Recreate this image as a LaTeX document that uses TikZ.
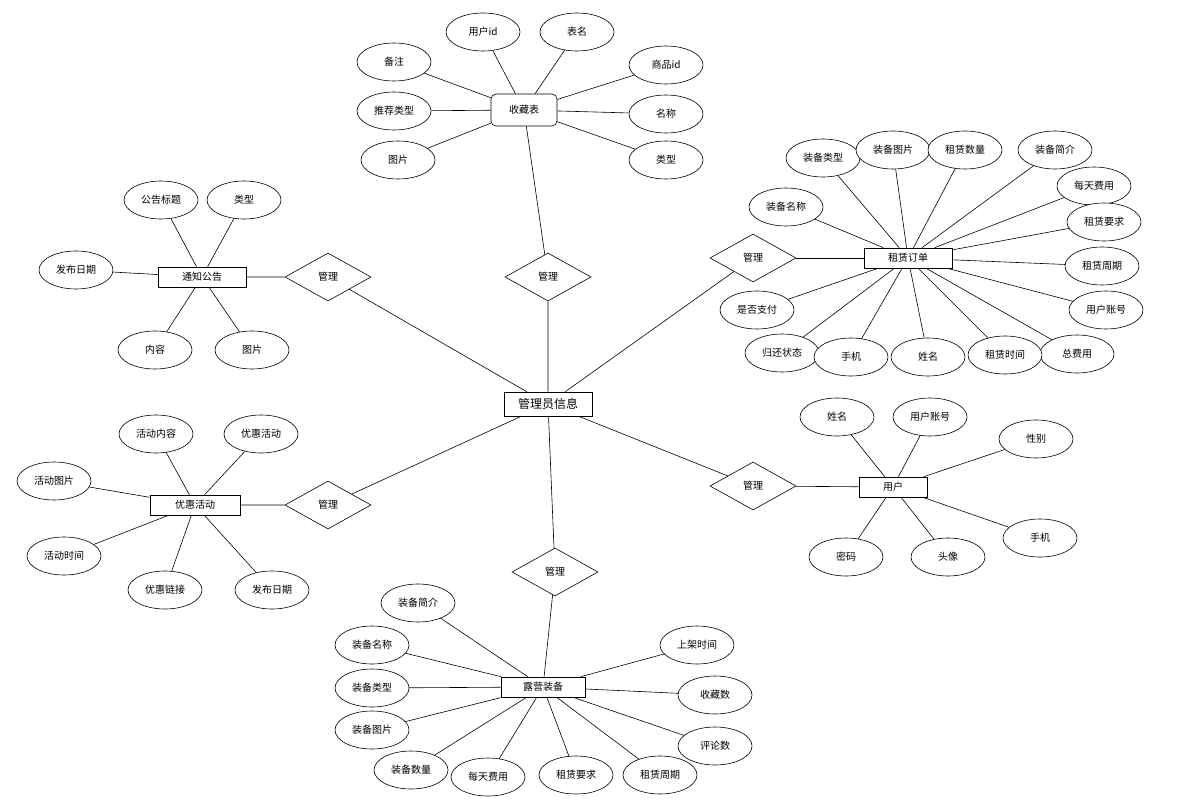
\documentclass[tikz,border=0pt]{standalone}
\usepackage{fontspec}
\setmainfont{Noto Sans CJK SC}
\usetikzlibrary{shapes.geometric}
\begin{document}
\begin{tikzpicture}[x=1pt,y=-1pt,line width=0.6pt,
  every node/.style={font=\fontsize{10}{12}\selectfont},
  attr/.style={ellipse,draw,fill=white,minimum width=74pt,minimum height=38pt,inner sep=1pt},
  ent/.style={rectangle,draw,fill=white,minimum height=20pt,minimum width=#1},
  rel/.style={diamond,draw,fill=white,minimum width=86pt,minimum height=48pt,aspect=1.8,inner sep=0pt}]
\useasboundingbox (0,0) rectangle (1188,810);
% center
\node[ent=88pt,minimum height=24pt,font=\fontsize{12}{14}\selectfont] (C) at (548,404) {管理员信息};
% 收藏表
\node[ent=66pt,minimum height=32pt,rounded corners=5pt] (S) at (524,110) {收藏表};
\node[rel] (Sr) at (548,277) {管理};
\foreach \n/\x/\y/\t in {s1/483/32/用户id,s2/577/32/表名,s3/666/65/商品id,s4/394/62/备注,s5/394/111/推荐类型,s6/666/114/名称,s7/398/160/图片,s8/666/160/类型}
  {\node[attr] (\n) at (\x,\y) {\t}; \draw (\n) -- (S);}
\draw (S) -- (Sr) -- (C);
% 通知公告
\node[ent=88pt] (N) at (202,277) {通知公告};
\node[rel] (Nr) at (328,277) {管理};
\foreach \n/\x/\y/\t in {n1/161/200/公告标题,n2/244/200/类型,n3/76/270/发布日期,n4/155/350/内容,n5/252/350/图片}
  {\node[attr] (\n) at (\x,\y) {\t}; \draw (\n) -- (N);}
\draw (N) -- (Nr) -- (C);
% 优惠活动
\node[ent=90pt] (Y) at (195,505) {优惠活动};
\node[rel] (Yr) at (328,505) {管理};
\foreach \n/\x/\y/\t in {y1/156/434/活动内容,y2/261/434/优惠活动,y3/54/481/活动图片,y4/64/556/活动时间,y5/165/590/优惠链接,y6/272/590/发布日期}
  {\node[attr] (\n) at (\x,\y) {\t}; \draw (\n) -- (Y);}
\draw (Y) -- (Yr) -- (C);
% 租赁订单
\node[ent=88pt] (Z) at (908,258) {租赁订单};
\node[rel] (Zr) at (753,258) {管理};
\foreach \n/\x/\y/\t in {z1/823/158/装备类型,z2/893/150/装备图片,z3/965/150/租赁数量,z4/1055/150/装备简介,z5/1094/186/每天费用,z6/786/207/装备名称,z7/1104/222/租赁要求,z8/1102/266/租赁周期,z9/1106/310/用户账号,z10/757/310/是否支付,z11/782/353/归还状态,z12/851/357/手机,z13/928/357/姓名,z15/1077/354/总费用,z14/1005/355/租赁时间}
  {\draw (\x,\y) -- (Z);}
\foreach \n/\x/\y/\t in {z1/823/158/装备类型,z2/893/150/装备图片,z3/965/150/租赁数量,z4/1055/150/装备简介,z5/1094/186/每天费用,z6/786/207/装备名称,z7/1104/222/租赁要求,z8/1102/266/租赁周期,z9/1106/310/用户账号,z10/757/310/是否支付,z11/782/353/归还状态,z12/851/357/手机,z13/928/357/姓名,z15/1077/354/总费用,z14/1005/355/租赁时间}
  {\node[attr] (\n) at (\x,\y) {\t};}
\node[ent=88pt] at (908,258) {租赁订单};
\draw (Zr) -- (Z); \draw (C) -- (Zr);
% 用户
\node[ent=68pt] (U) at (893,487) {用户};
\node[rel] (Ur) at (753,486) {管理};
\foreach \n/\x/\y/\t in {u1/837/417/姓名,u2/930/417/用户账号,u3/1036/439/性别,u4/1040/538/手机,u5/846/557/密码,u6/948/557/头像}
  {\node[attr] (\n) at (\x,\y) {\t}; \draw (\n) -- (U);}
\draw (U) -- (Ur) -- (C);
% 露营装备
\node[ent=84pt] (L) at (543,687) {露营装备};
\node[rel] (Lr) at (555,572) {管理};
\foreach \n/\x/\y/\t in {l1/418/603/装备简介,l2/372/645/装备名称,l3/372/688/装备类型,l4/372/730/装备图片,l5/411/770/装备数量,l6/488/777/每天费用,l7/576/775/租赁要求,l8/660/775/租赁周期,l9/697/645/上架时间,l10/715/695/收藏数,l11/715/746/评论数}
  {\draw (\x,\y) -- (L);}
\foreach \n/\x/\y/\t in {l1/418/603/装备简介,l2/372/645/装备名称,l3/372/688/装备类型,l4/372/730/装备图片,l5/411/770/装备数量,l6/488/777/每天费用,l7/576/775/租赁要求,l8/660/775/租赁周期,l9/697/645/上架时间,l10/715/695/收藏数,l11/715/746/评论数}
  {\node[attr] (\n) at (\x,\y) {\t};}
\node[ent=84pt] at (543,687) {露营装备};
\draw (L) -- (Lr) -- (C);
\end{tikzpicture}
\end{document}
